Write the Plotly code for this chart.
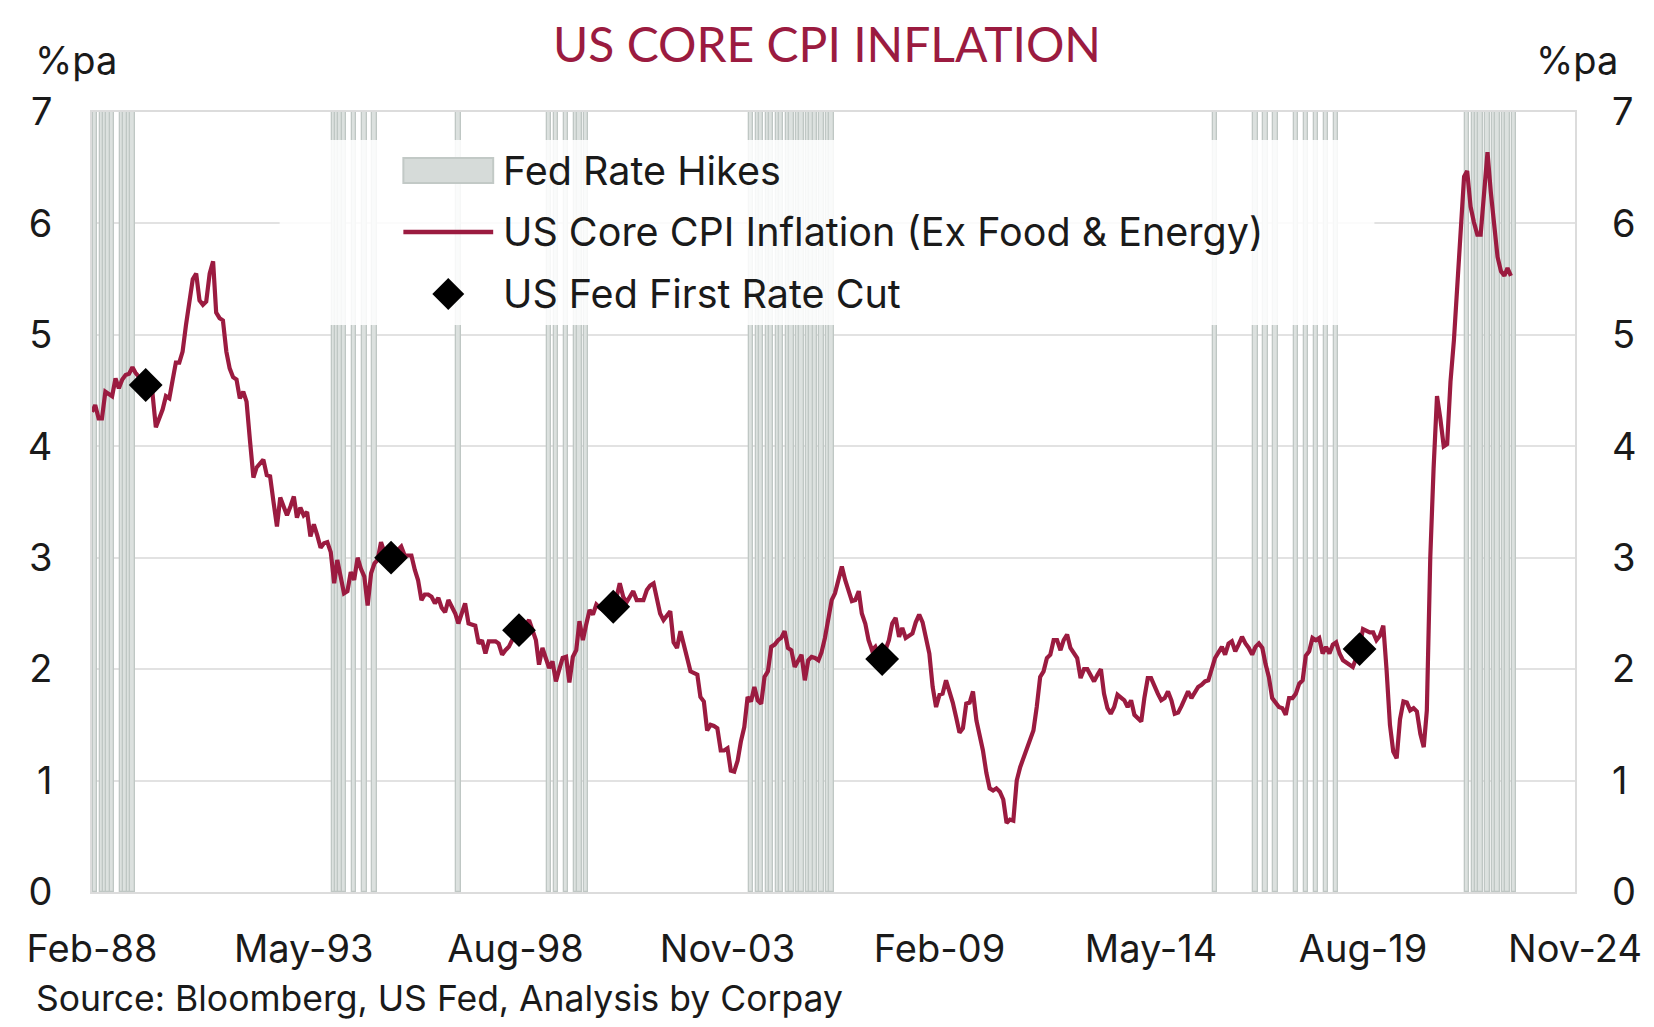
import pandas as pd
import plotly.graph_objects as go

# ---------------- data ----------------
# US core CPI, % y/y, monthly from Feb-1988
core_1988 = [4.31, 4.37, 4.25, 4.25, 4.49, 4.47, 4.45, 4.61, 4.52, 4.60, 4.64]
core_1989 = [4.65, 4.71, 4.66, 4.62, 4.58, 4.55, 4.52, 4.48, 4.17, 4.25, 4.33, 4.45]
core_1990 = [4.43, 4.60, 4.75, 4.75, 4.85, 5.09, 5.30, 5.50, 5.55, 5.31, 5.27, 5.30]
core_1991 = [5.55, 5.66, 5.20, 5.15, 5.13, 4.85, 4.70, 4.62, 4.60, 4.43, 4.49, 4.40]
core_1992 = [4.05, 3.72, 3.81, 3.85, 3.88, 3.74, 3.73, 3.50, 3.28, 3.54, 3.45, 3.38]
core_1993 = [3.46, 3.55, 3.36, 3.45, 3.38, 3.41, 3.19, 3.30, 3.20, 3.09, 3.13, 3.14]
core_1994 = [3.05, 2.77, 2.98, 2.80, 2.68, 2.70, 2.87, 2.80, 3.00, 2.90, 2.83, 2.57]
core_1995 = [2.86, 2.95, 2.98, 3.14, 3.05, 3.02, 3.00, 3.07, 3.07, 3.10, 3.02, 3.02]
core_1996 = [3.02, 2.89, 2.80, 2.62, 2.67, 2.67, 2.65, 2.59, 2.64, 2.55, 2.51, 2.62]
core_1997 = [2.55, 2.50, 2.41, 2.50, 2.59, 2.41, 2.40, 2.39, 2.23, 2.26, 2.14, 2.25]
core_1998 = [2.25, 2.25, 2.23, 2.13, 2.17, 2.20, 2.26, 2.30, 2.35, 2.38, 2.40, 2.44]
core_1999 = [2.35, 2.26, 2.04, 2.19, 2.10, 2.01, 2.07, 1.89, 2.00, 2.10, 2.11, 1.88]
core_2000 = [2.11, 2.17, 2.43, 2.26, 2.40, 2.53, 2.49, 2.58, 2.55, 2.53, 2.55, 2.58]
core_2001 = [2.56, 2.65, 2.77, 2.65, 2.60, 2.65, 2.70, 2.62, 2.62, 2.62, 2.71, 2.75]
core_2002 = [2.77, 2.61, 2.50, 2.44, 2.48, 2.52, 2.24, 2.19, 2.34, 2.20, 2.10, 1.98]
core_2003 = [1.96, 1.95, 1.75, 1.71, 1.45, 1.50, 1.49, 1.47, 1.27, 1.27, 1.29, 1.09]
core_2004 = [1.08, 1.18, 1.35, 1.48, 1.75, 1.71, 1.84, 1.72, 1.69, 1.93, 1.98, 2.20]
core_2005 = [2.22, 2.26, 2.28, 2.34, 2.19, 2.17, 2.02, 2.08, 2.13, 1.90, 2.08, 2.11]
core_2006 = [2.10, 2.08, 2.15, 2.28, 2.44, 2.62, 2.68, 2.80, 2.92, 2.80, 2.71, 2.61]
core_2007 = [2.62, 2.70, 2.50, 2.41, 2.26, 2.17, 2.20, 2.12, 2.09, 2.18, 2.26, 2.41]
core_2008 = [2.46, 2.29, 2.37, 2.28, 2.30, 2.32, 2.42, 2.49, 2.42, 2.30, 2.14, 1.84]
core_2009 = [1.66, 1.77, 1.78, 1.90, 1.81, 1.70, 1.57, 1.43, 1.47, 1.69, 1.70, 1.80]
core_2010 = [1.54, 1.40, 1.27, 1.07, 0.93, 0.91, 0.93, 0.90, 0.83, 0.62, 0.65, 0.64]
core_2011 = [1.00, 1.12, 1.20, 1.30, 1.38, 1.45, 1.66, 1.93, 1.98, 2.10, 2.13, 2.26]
core_2012 = [2.26, 2.17, 2.26, 2.31, 2.19, 2.15, 2.10, 1.92, 2.00, 2.00, 1.95, 1.89]
core_2013 = [1.95, 2.00, 1.78, 1.65, 1.60, 1.66, 1.77, 1.74, 1.72, 1.66, 1.72, 1.59]
core_2014 = [1.56, 1.53, 1.74, 1.92, 1.92, 1.84, 1.78, 1.72, 1.74, 1.80, 1.72, 1.60]
core_2015 = [1.61, 1.67, 1.74, 1.80, 1.74, 1.80, 1.84, 1.86, 1.89, 1.90, 2.00, 2.10]
core_2016 = [2.15, 2.20, 2.13, 2.23, 2.25, 2.16, 2.22, 2.29, 2.23, 2.19, 2.13, 2.20]
core_2017 = [2.23, 2.19, 2.05, 1.93, 1.74, 1.70, 1.66, 1.65, 1.59, 1.74, 1.74, 1.78]
core_2018 = [1.87, 1.90, 2.12, 2.16, 2.28, 2.26, 2.28, 2.14, 2.20, 2.14, 2.22, 2.24]
core_2019 = [2.14, 2.08, 2.06, 2.04, 2.02, 2.10, 2.20, 2.36, 2.34, 2.33, 2.33, 2.26]
core_2020 = [2.30, 2.39, 2.00, 1.50, 1.26, 1.20, 1.55, 1.71, 1.70, 1.63, 1.65, 1.62]
core_2021 = [1.42, 1.30, 1.63, 3.00, 3.80, 4.45, 4.25, 4.00, 4.02, 4.58, 4.95, 5.48]
core_2022 = [6.02, 6.42, 6.47, 6.15, 6.01, 5.90, 5.90, 6.30, 6.64, 6.28, 5.99, 5.70]
core_2023 = [5.57, 5.53, 5.60, 5.53]

core_cpi = (core_1988 + core_1989 + core_1990 + core_1991 + core_1992 + core_1993
            + core_1994 + core_1995 + core_1996 + core_1997 + core_1998 + core_1999
            + core_2000 + core_2001 + core_2002 + core_2003 + core_2004 + core_2005
            + core_2006 + core_2007 + core_2008 + core_2009 + core_2010 + core_2011
            + core_2012 + core_2013 + core_2014 + core_2015 + core_2016 + core_2017
            + core_2018 + core_2019 + core_2020 + core_2021 + core_2022 + core_2023)
months = pd.date_range("1988-02-01", periods=len(core_cpi), freq="MS")

# Months with a Fed rate hike (shaded bars spanning the whole axis)
hike_months = [
    "1988-03-01", "1988-05-01", "1988-06-01", "1988-07-01", "1988-08-01",
    "1988-11-01", "1988-12-01", "1989-01-01", "1989-02-01",
    "1994-02-01", "1994-03-01", "1994-04-01", "1994-05-01", "1994-08-01",
    "1994-11-01", "1995-02-01",
    "1997-03-01",
    "1999-06-01", "1999-08-01", "1999-11-01", "2000-02-01", "2000-03-01", "2000-05-01",
    "2004-06-01", "2004-08-01", "2004-09-01", "2004-11-01", "2004-12-01",
    "2005-02-01", "2005-03-01", "2005-05-01", "2005-06-01", "2005-08-01",
    "2005-09-01", "2005-11-01", "2005-12-01", "2006-01-01", "2006-03-01",
    "2006-05-01", "2006-06-01",
    "2015-12-01", "2016-12-01", "2017-03-01", "2017-06-01", "2017-12-01",
    "2018-03-01", "2018-06-01", "2018-09-01", "2018-12-01",
    "2022-03-01", "2022-05-01", "2022-06-01", "2022-07-01", "2022-09-01",
    "2022-11-01", "2022-12-01", "2023-02-01", "2023-03-01", "2023-05-01",
]
hike_level = [7] * len(hike_months)

# First rate cut of each easing cycle
cut_months = ["1989-06-01", "1995-07-01", "1998-09-01", "2001-01-01", "2007-09-01", "2019-07-01"]
cut_values = [4.55, 3.00, 2.35, 2.56, 2.09, 2.18]

y_ticks = [0, 1, 2, 3, 4, 5, 6, 7]

# ---------------- styling ----------------
MAROON = "#9b1b40"
TXT = "#1a1a1a"
FONT = "Inter"
TITLE_FONT = "Lato"
W, H = 1654, 1027
L, R, T, B = 92, 76, 112, 135
PW, PH = W - L - R, H - T - B


def px(x):
    return (x - L) / PW


def py(y):
    return (H - B - y) / PH


fig = go.Figure()

fig.add_trace(go.Bar(
    x=hike_months, y=hike_level, width=40 * 86400000,
    marker=dict(color="#dce1df", line=dict(color="#bfc7c4", width=1.3)),
    name="Fed Rate Hikes", showlegend=False, hoverinfo="skip",
))
fig.add_trace(go.Scatter(
    x=months, y=core_cpi, mode="lines",
    line=dict(color=MAROON, width=4.2),
    name="US Core CPI Inflation (Ex Food & Energy)", showlegend=False,
))
fig.add_trace(go.Scatter(
    x=cut_months, y=cut_values, mode="markers", yaxis="y2",
    marker=dict(symbol="diamond", size=26, color="black"),
    name="US Fed First Rate Cut", showlegend=False,
))

axis_line = "#dcdcdc"
tickfont = dict(family=FONT, size=38, color=TXT)

fig.update_layout(
    width=W, height=H,
    margin=dict(l=L, r=R, t=T, b=B),
    paper_bgcolor="white", plot_bgcolor="white",
    barmode="overlay", bargap=0,
    title=dict(text="US CORE CPI INFLATION", x=0.5, xref="container",
               y=1 - 45 / H, yref="container", xanchor="center", yanchor="middle",
               font=dict(family=TITLE_FONT, size=48, color=MAROON)),
    xaxis=dict(
        type="date", range=["1988-02-01", "2024-11-01"],
        tick0="1988-02-01", dtick="M63", tickformat="%b-%y",
        showgrid=False, zeroline=False, ticks="",
        showline=True, linecolor=axis_line, linewidth=2, mirror=True,
        tickfont=tickfont, ticklabelstandoff=22,
    ),
    yaxis=dict(
        range=[0, 7], tickvals=y_ticks, showgrid=True, gridcolor="#e2e2e2", gridwidth=2,
        zeroline=False, ticks="", showline=True, linecolor=axis_line, linewidth=2, mirror=True,
        tickfont=tickfont, ticklabelstandoff=30,
    ),
    yaxis2=dict(
        range=[0, 7], tickvals=y_ticks, overlaying="y", side="right",
        showgrid=False, zeroline=False, ticks="", showline=False,
        tickfont=tickfont, ticklabelstandoff=36,
    ),
    font=dict(family=FONT, color=TXT),
)

# Legend (drawn manually to match the reference swatch sizes)
shapes = [
    dict(type="rect", xref="paper", yref="paper", layer="above",
         x0=px(280), x1=px(1377), y0=py(325), y1=py(140),
         fillcolor="rgba(255,255,255,0.86)", line=dict(width=0)),
    dict(type="rect", xref="paper", yref="paper", layer="above",
         x0=px(404), x1=px(494), y0=py(183), y1=py(158),
         fillcolor="#d6dbd9", line=dict(color="#c2c9c6", width=2)),
    dict(type="line", xref="paper", yref="paper", layer="above",
         x0=px(404), x1=px(494), y0=py(232), y1=py(232),
         line=dict(color=MAROON, width=4.5)),
]
cx, cy, hs = 449, 294, 16
shapes.append(dict(
    type="path", xref="paper", yref="paper", layer="above",
    path=(f"M{px(cx)},{py(cy - hs)} L{px(cx + hs)},{py(cy)} "
          f"L{px(cx)},{py(cy + hs)} L{px(cx - hs)},{py(cy)} Z"),
    fillcolor="black", line=dict(width=0)))
fig.update_layout(shapes=shapes)

legend_texts = ["Fed Rate Hikes", "US Core CPI Inflation (Ex Food & Energy)", "US Fed First Rate Cut"]
legend_y = [171, 232, 294]
ann = []
for t, yy in zip(legend_texts, legend_y):
    ann.append(dict(text=t, x=px(502), y=py(yy), xref="paper", yref="paper",
                    xanchor="left", yanchor="middle", showarrow=False,
                    font=dict(family=FONT, size=39.5, color=TXT)))
ann.append(dict(text="%pa", x=px(76), y=py(60), xref="paper", yref="paper",
                xanchor="center", yanchor="middle", showarrow=False,
                font=dict(family=FONT, size=38, color=TXT)))
ann.append(dict(text="%pa", x=px(1580), y=py(60), xref="paper", yref="paper",
                xanchor="center", yanchor="middle", showarrow=False,
                font=dict(family=FONT, size=38, color=TXT)))
ann.append(dict(text="Source: Bloomberg, US Fed, Analysis by Corpay", x=px(34), y=py(998),
                xref="paper", yref="paper", xanchor="left", yanchor="middle", showarrow=False,
                font=dict(family=FONT, size=35.5, color=TXT)))
fig.update_layout(annotations=ann)

fig.write_html("out.html")
